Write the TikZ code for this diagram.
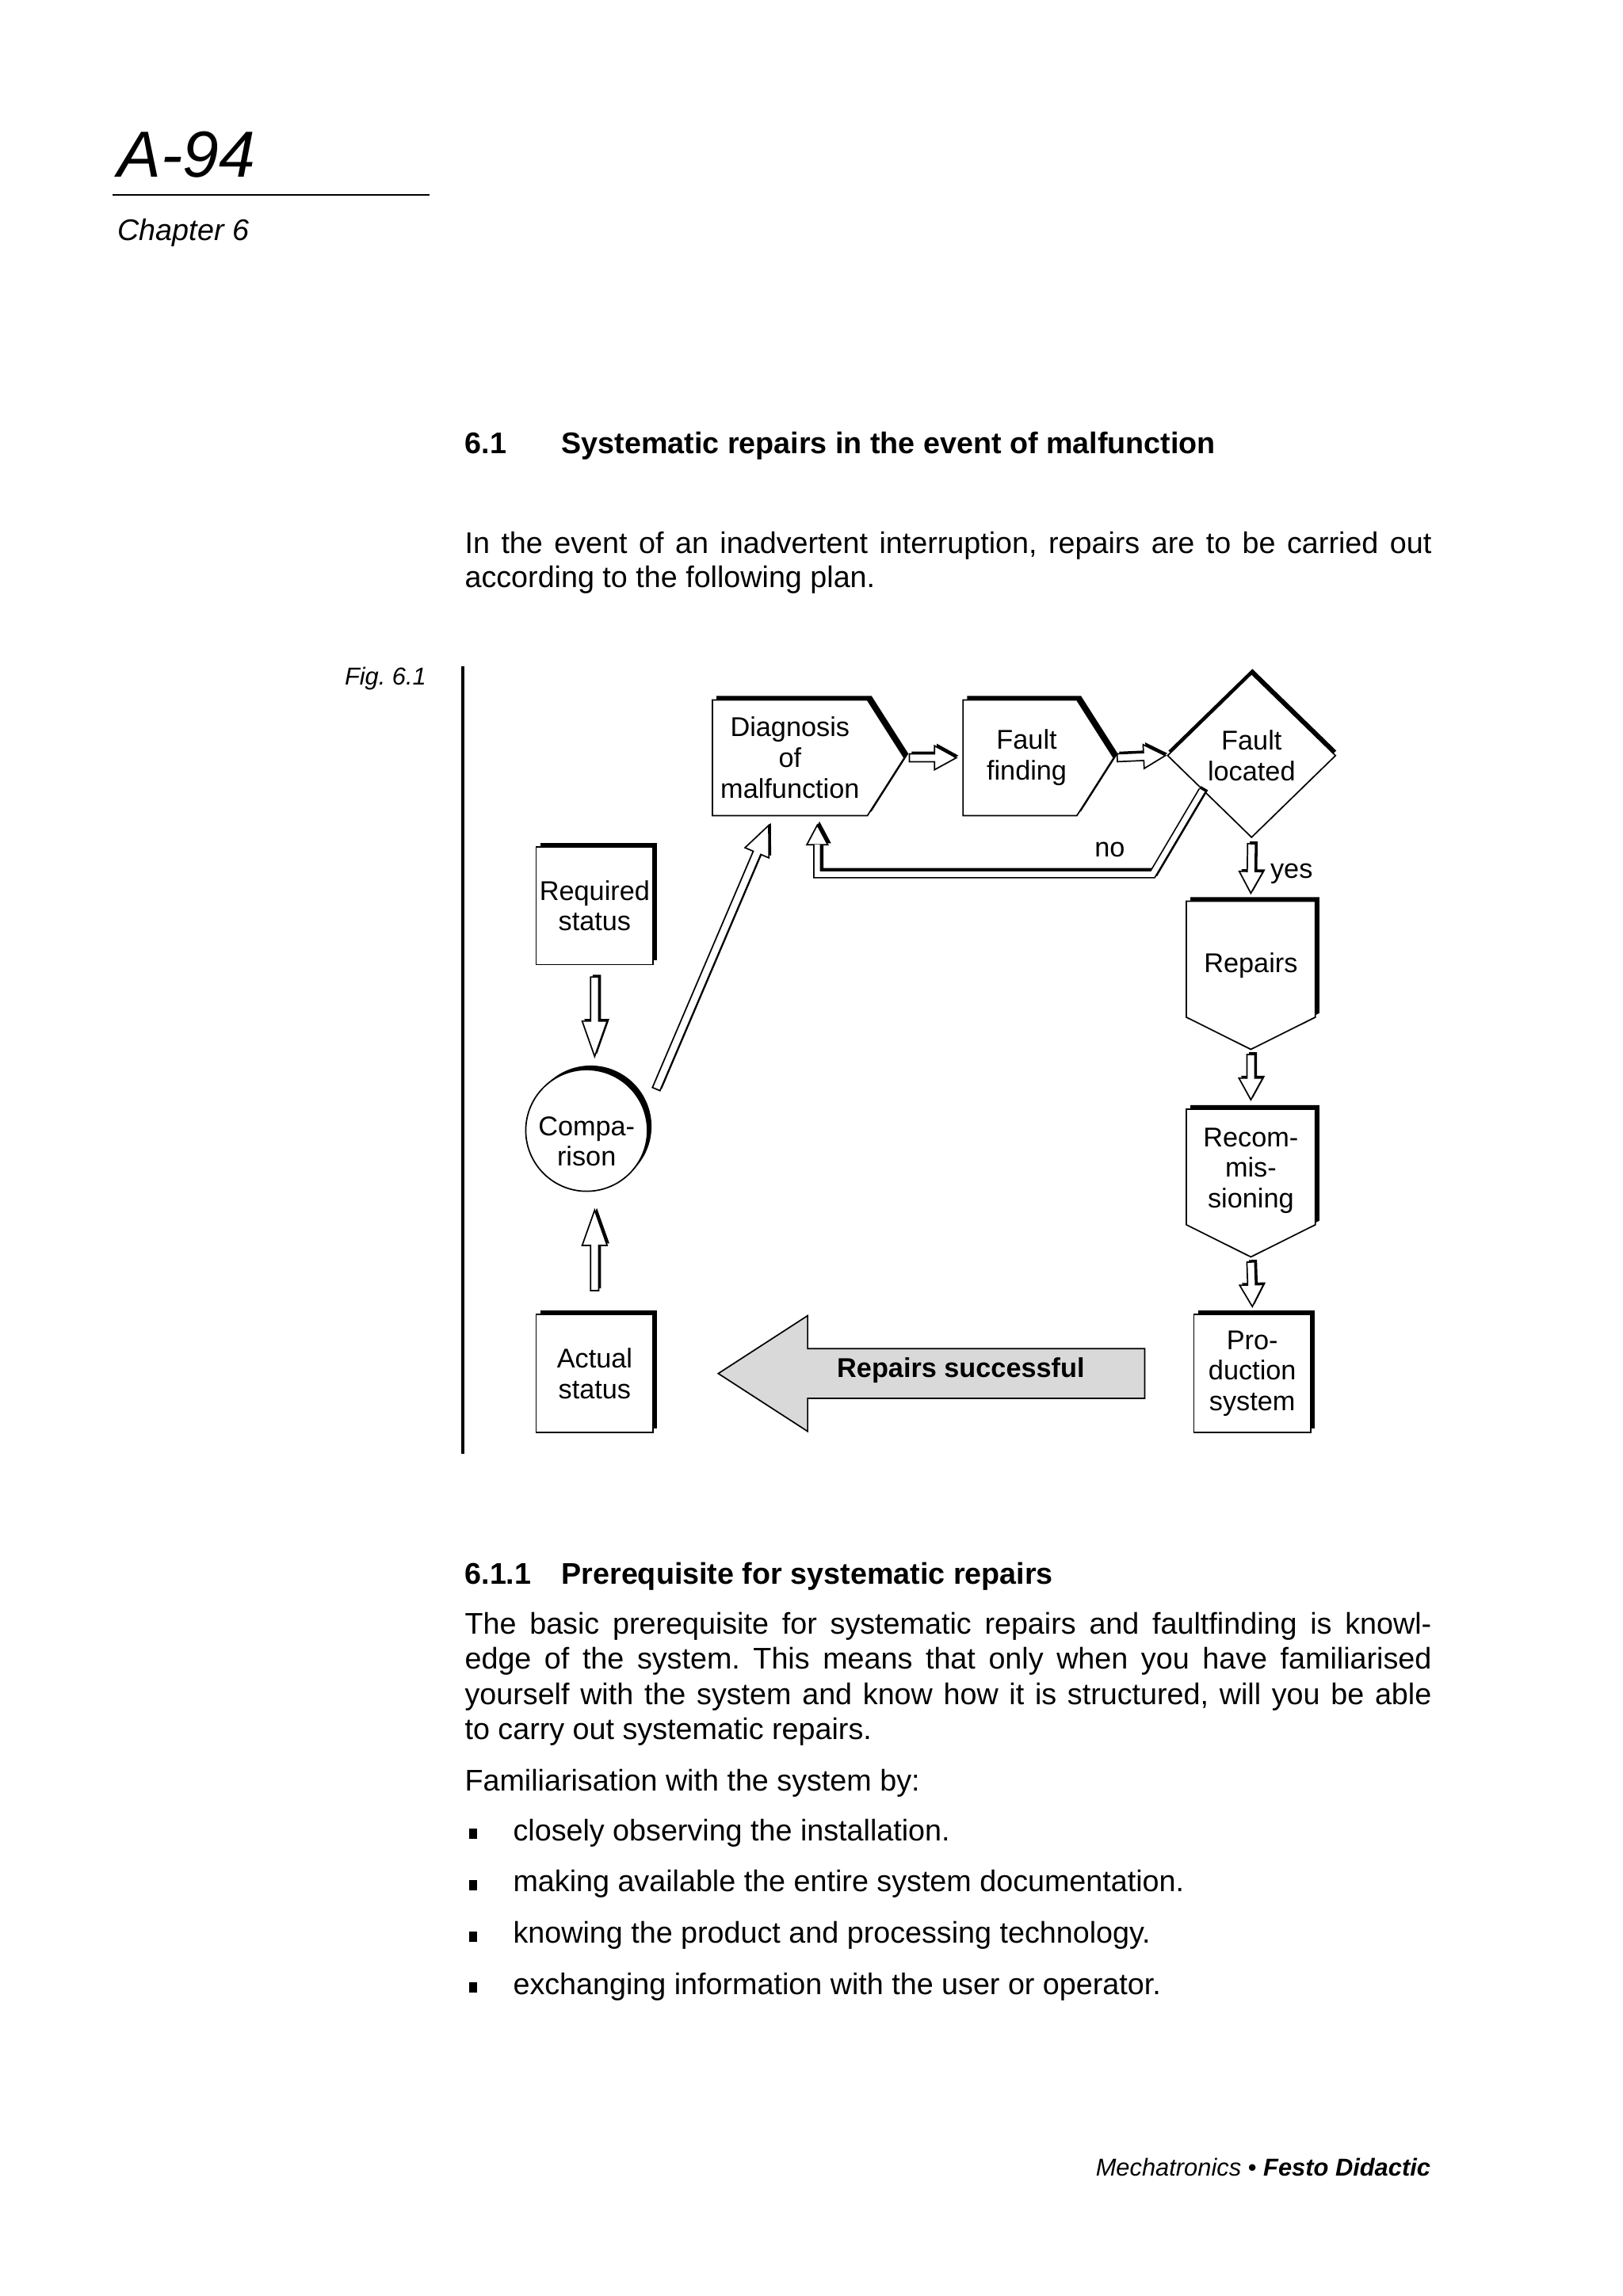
\documentclass[tikz,border=0pt]{standalone}
\usepackage{fontspec}
\setmainfont{Liberation Sans}
\usetikzlibrary{calc,shapes.geometric,shapes.symbols,shadows,arrows.meta}
\frenchspacing

\begin{document}
\begin{tikzpicture}[
  x=0.018953cm, y=-0.018953cm,
  body/.style={anchor=base west, inner sep=0pt, font=\fontsize{11}{12.65}\selectfont},
  sechead/.style={body, font=\fontsize{11}{12.65}\selectfont\bfseries},
  blk/.style={draw, fill=white, line width=.5pt, inner sep=0pt, align=center, font=\fontsize{10}{11.3}\selectfont},
  shd/.style={general shadow={fill=black, shadow xshift=1.5pt, shadow yshift=1.5pt}},
  sqbox/.style={blk, shd, rectangle, minimum width=43.1pt, minimum height=43.4pt},
  sig/.style={blk, shd, signal, signal pointer angle=#1},
  lab/.style={anchor=base west, inner sep=0pt, font=\fontsize{10}{11.3}\selectfont},
  fatarr/.style n args={3}{to path={
    let \p1=(\tikztostart), \p2=(\tikztotarget),
        \n1={atan2(\y2-\y1,\x2-\x1)}, \n2={veclen(\x2-\x1,\y2-\y1)} in
    {[shift={(\p1)}, rotate=\n1]
      (0pt,#3) -- ({\n2-#1},#3) -- ({\n2-#1},#2) -- ({\n2+0pt},0pt)
      -- ({\n2-#1},-#2) -- ({\n2-#1},-#3) -- (0pt,-#3) -- cycle}}},
  hol/.style={draw, fill=white, line width=.5pt,
    general shadow={fill=black, shadow xshift=.8pt, shadow yshift=.8pt}},
  noarr/.style={line width=.5pt, shorten >=2.7pt, -{Triangle[fill=white, length=8pt, width=8.4pt]},
    preaction={draw, line width=3pt, shorten >=2.7pt, -{Triangle[length=8pt, width=8.4pt, line width=.5pt]},
      transform canvas={shift={(.8pt,.8pt)}}},
    postaction={draw, -, double=white, double distance=2pt, shorten >=10.4pt}},
  bigarr/.style={draw, fill=gray!30, line width=.5pt}
]
\fill[white] (0,0) rectangle (1108,1568);
\useasboundingbox (0,0) rectangle (1108,1568);

% page head
\node[anchor=base west, inner sep=0pt, font=\fontsize{24}{28}\selectfont\itshape] (pg) at (80,121) {A-94};
\draw[line width=.6pt] (77,133) -- (293,133);
\node[anchor=base west, inner sep=0pt, font=\fontsize{11}{13}\selectfont\itshape] (chap) at (80,164) {Chapter 6};

% section 6.1
\node[sechead] (s1n) at (317,310) {6.1};
\node[sechead] (s1t) at (383,310) {Systematic repairs in the event of malfunction};
\node[body] (p1a) at (317,378) {\makebox[355.9pt][s]{In the event of an inadvertent interruption, repairs are to be carried out}};
\node[body] (p1b) at (317,401) {according to the following plan.};

\node[anchor=base west, inner sep=0pt, font=\fontsize{9}{11}\selectfont\itshape] (fig) at (235,468) {Fig. 6.1};
\draw[line width=1.4pt] (316,455) -- (316,993);

% diagram
\node[sig=115, signal to=east, anchor=west, minimum width=70.6pt, minimum height=42.6pt] (diag) at (486,517.5) {Diagnosis\\of\\malfunction};
\node[sig=115, signal to=east, anchor=west, minimum width=55.5pt, minimum height=42.6pt] (find) at (657,517.5) {\hspace*{5pt}Fault\\\hspace*{5pt}finding};
\node[blk, diamond, aspect=1, minimum width=62pt, minimum height=60.4pt,
  general shadow={fill=black, shadow xshift=.3pt, shadow yshift=1.8pt}] (loc) at (854.5,516) {Fault\\located};
\node[sqbox] (req) at (406,618.5) {Required\\status};
\node[blk, shd, circle, minimum size=44.8pt] (comp) at (400.5,772) {\rule{0pt}{15pt}Compa-\\rison};
\node[sqbox] (act) at (406,938) {Actual\\status};
\node[sig=127, signal to=south, anchor=north, minimum width=47.5pt, minimum height=51.3pt] (rep) at (854,615) {\rule{0pt}{11.6pt}Repairs};
\node[sig=127, signal to=south, anchor=north, minimum width=47.5pt, minimum height=51.3pt] (rec) at (854,757) {\rule{0pt}{9.6pt}Recom-\\mis-\\sioning};
\node[sqbox] (prod) at (855,938) {Pro-\\duction\\system};

\coordinate (dgtip) at ([shift={(21pt,-3.2pt)}]diag.south west);
\coordinate (nos) at ($(loc.west)!.42!(loc.south)$);
\coordinate (nob1) at (787,597);
\coordinate (nob2) at (558,597);

\draw[hol, fatarr={13pt}{4.6pt}{1.5pt}] ([yshift=-4.3pt]req.south) to ($(req.south |- comp.north)+(0pt,4.6pt)$);
\draw[hol, fatarr={13pt}{4.6pt}{1.5pt}] ([yshift=8.6pt]act.north) to ($(act.north |- comp.south)+(0pt,-6.7pt)$);
\draw[hol, fatarr={11pt}{4.8pt}{1.5pt}] ([shift={(6pt,3.9pt)}]comp.30) to (dgtip);
\draw[hol, fatarr={8pt}{4.4pt}{1.45pt}] ([xshift=1.6pt]diag.east) to ([xshift=-2.2pt]find.west);
\draw[hol, fatarr={8pt}{4.4pt}{1.45pt}] ([xshift=1pt]find.east) to ([xshift=-.5pt]loc.west);
\draw[hol, fatarr={8pt}{4.4pt}{1.45pt}] ([yshift=-2pt]loc.south) to ([yshift=2.7pt]rep.north);
\draw[hol, fatarr={8pt}{4.4pt}{1.45pt}] ([yshift=-1.6pt]rep.south) to ([yshift=3.2pt]rec.north);
\draw[hol, fatarr={8pt}{4.4pt}{1.45pt}] ([yshift=-1.6pt]rec.south) to ([yshift=2.7pt]prod.north);
\draw[noarr] (nos) -- (nob1) -- (nob2) -- (nob2 |- diag.south);
\draw[bigarr, fatarr={32.9pt}{21.3pt}{9.15pt}] ([xshift=-17.8pt]prod.west) to ([xshift=23.7pt]act.east);

\node[lab] (no) at (747,585) {no};
\node[lab] (yes) at (867,600) {yes};
\node[inner sep=0pt, font=\fontsize{10}{11.3}\selectfont\bfseries] (succ) at (656,936) {Repairs successful};

% section 6.1.1
\node[sechead] (s2n) at (317,1082) {6.1.1};
\node[sechead] (s2t) at (383,1082) {Prerequisite for systematic repairs};
\node[body] (p2a) at (317,1116) {\makebox[355.9pt][s]{The basic prerequisite for systematic repairs and faultfinding is knowl-}};
\node[body] (p2b) at (317,1140) {\makebox[355.9pt][s]{edge of the system. This means that only when you have familiarised}};
\node[body] (p2c) at (317,1164) {\makebox[355.9pt][s]{yourself with the system and know how it is structured, will you be able}};
\node[body] (p2d) at (317,1188) {to carry out systematic repairs.};
\node[body] (p3) at (317,1223) {Familiarisation with the system by:};
\foreach \t [count=\i] in {closely observing the installation.,
  making available the entire system documentation.,
  knowing the product and processing technology.,
  exchanging information with the user or operator.}{
  \node[body] (sq\i) at (320,1222+35*\i) {\rule[.6pt]{3pt}{3.8pt}};
  \node[body] (it\i) at (350,1222+35*\i) {\t};
}

% foot
\node[anchor=base east, inner sep=0pt, font=\fontsize{9}{11}\selectfont] (foot) at (977,1486)
  {\textit{Mechatronics} \textbullet\ \textbf{\textit{Festo Didactic}}};
\end{tikzpicture}
\end{document}
